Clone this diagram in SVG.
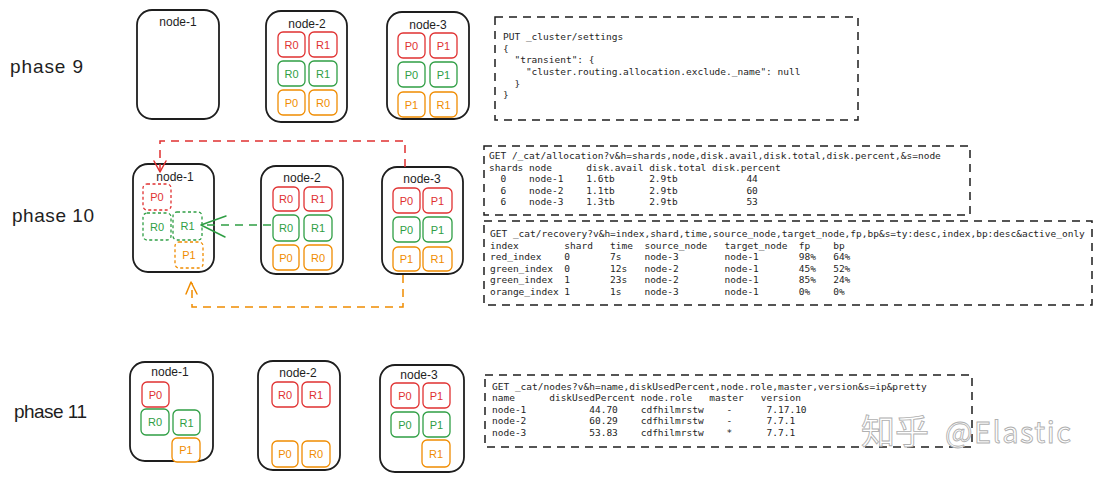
<svg xmlns="http://www.w3.org/2000/svg" width="1100" height="481" viewBox="0 0 1100 481">
<defs>
<style>
.bg{fill:#fff}
.node{fill:#fff;stroke:#1e1e1e;stroke-width:1.8}
.nl{font-family:"Liberation Sans",Arial,sans-serif;font-size:12px;fill:#1e1e1e;text-anchor:middle}
.ph{font-family:"Liberation Sans",Arial,sans-serif;font-size:19px;fill:#1e1e1e}
.s{fill:#fff;stroke-width:1.3}
.d{stroke-dasharray:3 2.5}
.r{stroke:#e03131}
.g{stroke:#2f9e44}
.o{stroke:#f08c00}
.st{font-family:"Liberation Sans",Arial,sans-serif;font-size:11px;text-anchor:middle}
.tr{fill:#e03131}
.tg{fill:#2f9e44}
.to{fill:#f08c00}
.code{fill:none;stroke:#1e1e1e;stroke-width:1.5;stroke-dasharray:8 6}
.ct{font-family:"DejaVu Sans Mono","Liberation Mono",monospace;font-size:9.5px;fill:#1e1e1e;white-space:pre}
.cr{fill:none;stroke:#e03131;stroke-width:1.5;stroke-dasharray:8 6}
.cg{fill:none;stroke:#2f9e44;stroke-width:1.5;stroke-dasharray:8 6}
.co{fill:none;stroke:#f08c00;stroke-width:1.5;stroke-dasharray:8 6}
.ah{fill:none;stroke-width:1.5;stroke-linecap:round;stroke-linejoin:round}
.wm{font-family:"Noto Sans CJK SC","Noto Sans",sans-serif;font-size:29px;fill:#fff;stroke:#b0b0b0;stroke-width:0.9}
</style>
</defs>
<rect class="bg" x="0" y="0" width="1100" height="481"/>

<g id="phase-labels">
<text class="ph" x="10" y="73" textLength="73">phase 9</text>
<text class="ph" x="12" y="222" textLength="82">phase 10</text>
<text class="ph" x="14" y="418" textLength="73">phase 11</text>
</g>

<!-- Phase 9 -->
<g id="p9-node-1">
<rect class="node" x="137" y="10" width="82" height="109" rx="15"/>
<text class="nl" x="178" y="26">node-1</text>
</g>
<g id="p9-node-2">
<rect class="node" x="266" y="11" width="81" height="111" rx="15"/>
<text class="nl" x="307" y="28">node-2</text>
<rect class="s r" x="278" y="32" width="27" height="25" rx="5"/><text class="st tr" x="291.5" y="48.5">R0</text>
<rect class="s r" x="309" y="32" width="28" height="25" rx="5"/><text class="st tr" x="323" y="48.5">R1</text>
<rect class="s g" x="278" y="61" width="27" height="25" rx="5"/><text class="st tg" x="291.5" y="77.5">R0</text>
<rect class="s g" x="309" y="61" width="28" height="25" rx="5"/><text class="st tg" x="323" y="77.5">R1</text>
<rect class="s o" x="278" y="90" width="27" height="25" rx="5"/><text class="st to" x="291.5" y="106.5">P0</text>
<rect class="s o" x="309" y="90" width="28" height="25" rx="5"/><text class="st to" x="323" y="106.5">R0</text>
</g>
<g id="p9-node-3">
<rect class="node" x="387" y="12" width="82" height="107" rx="15"/>
<text class="nl" x="428" y="29">node-3</text>
<rect class="s r" x="398" y="33" width="27" height="25" rx="5"/><text class="st tr" x="411.5" y="49.5">P0</text>
<rect class="s r" x="430" y="33" width="27" height="25" rx="5"/><text class="st tr" x="443.5" y="49.5">P1</text>
<rect class="s g" x="398" y="62" width="27" height="25" rx="5"/><text class="st tg" x="411.5" y="78.5">P0</text>
<rect class="s g" x="430" y="62" width="27" height="25" rx="5"/><text class="st tg" x="443.5" y="78.5">P1</text>
<rect class="s o" x="398" y="92" width="27" height="25" rx="5"/><text class="st to" x="411.5" y="108.5">P1</text>
<rect class="s o" x="430" y="92" width="27" height="25" rx="5"/><text class="st to" x="443.5" y="108.5">R1</text>
</g>
<g id="p9-code">
<rect class="code" x="495" y="17" width="363" height="103"/>
<text class="ct" x="503" y="40">PUT _cluster/settings</text>
<text class="ct" x="503" y="51.5">{</text>
<text class="ct" x="503" y="63">  "transient": {</text>
<text class="ct" x="503" y="75">    "cluster.routing.allocation.exclude._name": null</text>
<text class="ct" x="503" y="86.5">  }</text>
<text class="ct" x="503" y="98">}</text>
</g>

<!-- Phase 10 -->
<g id="p10-node-1">
<rect class="node" x="133" y="164" width="81" height="108" rx="15"/>
<text class="nl" x="175" y="181">node-1</text>
<rect class="s d r" x="143" y="184" width="28" height="26" rx="4"/><text class="st tr" x="157" y="201">P0</text>
<rect class="s d g" x="143" y="213" width="28" height="27" rx="4"/><text class="st tg" x="157" y="230.5">R0</text>
<rect class="s d g" x="173" y="212" width="29" height="28" rx="4"/><text class="st tg" x="187.5" y="230">R1</text>
<rect class="s d o" x="175" y="242" width="28" height="26" rx="4"/><text class="st to" x="189" y="259">P1</text>
</g>
<g id="p10-node-2">
<rect class="node" x="261" y="166" width="82" height="108" rx="15"/>
<text class="nl" x="302" y="182">node-2</text>
<rect class="s r" x="273" y="187" width="26" height="24" rx="5"/><text class="st tr" x="286" y="203">R0</text>
<rect class="s r" x="304" y="187" width="28" height="24" rx="5"/><text class="st tr" x="318" y="203">R1</text>
<rect class="s g" x="273" y="215" width="26" height="26" rx="5"/><text class="st tg" x="286" y="232">R0</text>
<rect class="s g" x="304" y="215" width="28" height="26" rx="5"/><text class="st tg" x="318" y="232">R1</text>
<rect class="s o" x="273" y="245" width="26" height="25" rx="5"/><text class="st to" x="286" y="261.5">P0</text>
<rect class="s o" x="304" y="245" width="28" height="25" rx="5"/><text class="st to" x="318" y="261.5">R0</text>
</g>
<g id="p10-node-3">
<rect class="node" x="382" y="167" width="81" height="107" rx="15"/>
<text class="nl" x="422" y="183">node-3</text>
<rect class="s r" x="393" y="188" width="27" height="25" rx="5"/><text class="st tr" x="406.5" y="204.5">P0</text>
<rect class="s r" x="423" y="188" width="29" height="25" rx="5"/><text class="st tr" x="437.5" y="204.5">P1</text>
<rect class="s g" x="393" y="217" width="27" height="25" rx="5"/><text class="st tg" x="406.5" y="233.5">P0</text>
<rect class="s g" x="423" y="217" width="29" height="25" rx="5"/><text class="st tg" x="437.5" y="233.5">P1</text>
<rect class="s o" x="393" y="247" width="27" height="24" rx="5"/><text class="st to" x="406.5" y="263">P1</text>
<rect class="s o" x="423" y="247" width="29" height="24" rx="5"/><text class="st to" x="437.5" y="263">R1</text>
</g>
<g id="connectors">
<path class="cr" d="M405,167 L405,141 L160,141 L160,171"/>
<path class="ah" stroke="#e03131" d="M154,161 L160,172 L166,161"/>
<path class="cg" d="M271,225 L203,225"/>
<path class="ah" stroke="#2f9e44" d="M226,216 L201,225 L225,237"/>
<path class="co" d="M403,275 L403,307 L192,307 L192,283"/>
<path class="ah" stroke="#f08c00" d="M186,294 L191,282 L197,294"/>
</g>
<g id="p10-allocation">
<rect class="code" x="484" y="146" width="486" height="69"/>
<text class="ct" x="489" y="159">GET /_cat/allocation?v&amp;h=shards,node,disk.avail,disk.total,disk.percent,&amp;s=node</text>
<text class="ct" x="489" y="170.5">shards node      disk.avail disk.total disk.percent</text>
<text class="ct" x="489" y="182">  0    node-1    1.6tb      2.9tb            44</text>
<text class="ct" x="489" y="193.5">  6    node-2    1.1tb      2.9tb            60</text>
<text class="ct" x="489" y="205">  6    node-3    1.3tb      2.9tb            53</text>
</g>
<g id="p10-recovery">
<rect class="code" x="484" y="221" width="608" height="84"/>
<text class="ct" x="490" y="237">GET _cat/recovery?v&amp;h=index,shard,time,source_node,target_node,fp,bp&amp;s=ty:desc,index,bp:desc&amp;active_only</text>
<text class="ct" x="490" y="248.5">index        shard   time  source_node   target_node  fp    bp</text>
<text class="ct" x="490" y="260">red_index    0       7s    node-3        node-1       98%   64%</text>
<text class="ct" x="490" y="271.5">green_index  0       12s   node-2        node-1       45%   52%</text>
<text class="ct" x="490" y="283">green_index  1       23s   node-2        node-1       85%   24%</text>
<text class="ct" x="490" y="294.5">orange_index 1       1s    node-3        node-1       0%    0%</text>
</g>

<!-- Phase 11 -->
<g id="p11-node-1">
<rect class="node" x="130" y="362" width="83" height="99" rx="15"/>
<text class="nl" x="170" y="376">node-1</text>
<rect class="s r" x="142" y="382" width="27" height="25" rx="5"/><text class="st tr" x="155.5" y="398.5">P0</text>
<rect class="s g" x="141" y="409" width="28" height="26" rx="5"/><text class="st tg" x="155" y="426">R0</text>
<rect class="s g" x="173" y="410" width="27" height="25" rx="5"/><text class="st tg" x="186.5" y="426.5">R1</text>
<rect class="s o" x="172" y="438" width="28" height="24" rx="5"/><text class="st to" x="186" y="454">P1</text>
</g>
<g id="p11-node-2">
<rect class="node" x="258" y="361" width="82" height="109" rx="15"/>
<text class="nl" x="298" y="377">node-2</text>
<rect class="s r" x="272" y="382" width="26" height="25" rx="5"/><text class="st tr" x="285" y="398.5">R0</text>
<rect class="s r" x="302" y="382" width="28" height="25" rx="5"/><text class="st tr" x="316" y="398.5">R1</text>
<rect class="s o" x="272" y="441" width="26" height="26" rx="5"/><text class="st to" x="285" y="458">P0</text>
<rect class="s o" x="302" y="441" width="28" height="26" rx="5"/><text class="st to" x="316" y="458">R0</text>
</g>
<g id="p11-node-3">
<rect class="node" x="380" y="365" width="84" height="107" rx="15"/>
<text class="nl" x="419" y="379">node-3</text>
<rect class="s r" x="391" y="383" width="28" height="25" rx="5"/><text class="st tr" x="405" y="399.5">P0</text>
<rect class="s r" x="423" y="383" width="27" height="25" rx="5"/><text class="st tr" x="436.5" y="399.5">P1</text>
<rect class="s g" x="391" y="412" width="28" height="25" rx="5"/><text class="st tg" x="405" y="428.5">P0</text>
<rect class="s g" x="423" y="412" width="27" height="25" rx="5"/><text class="st tg" x="436.5" y="428.5">P1</text>
<rect class="s o" x="422" y="440" width="28" height="27" rx="5"/><text class="st to" x="436" y="457.5">R1</text>
</g>
<g id="p11-nodes">
<rect class="code" x="485" y="375" width="487" height="72"/>
<text class="ct" x="492" y="389.5">GET _cat/nodes?v&amp;h=name,diskUsedPercent,node.role,master,version&amp;s=ip&amp;pretty</text>
<text class="ct" x="492" y="401">name      diskUsedPercent node.role   master   version</text>
<text class="ct" x="492" y="412.5">node-1           44.70    cdfhilmrstw    -      7.17.10</text>
<text class="ct" x="492" y="424">node-2           60.29    cdfhilmrstw    -      7.7.1</text>
<text class="ct" x="492" y="435.5">node-3           53.83    cdfhilmrstw    *      7.7.1</text>
</g>

<g id="watermark">
<text class="wm" x="861" y="444" style="font-size:34px">知乎</text>
<text class="wm" x="945" y="443" textLength="126">@Elastic</text>
</g>
</svg>
